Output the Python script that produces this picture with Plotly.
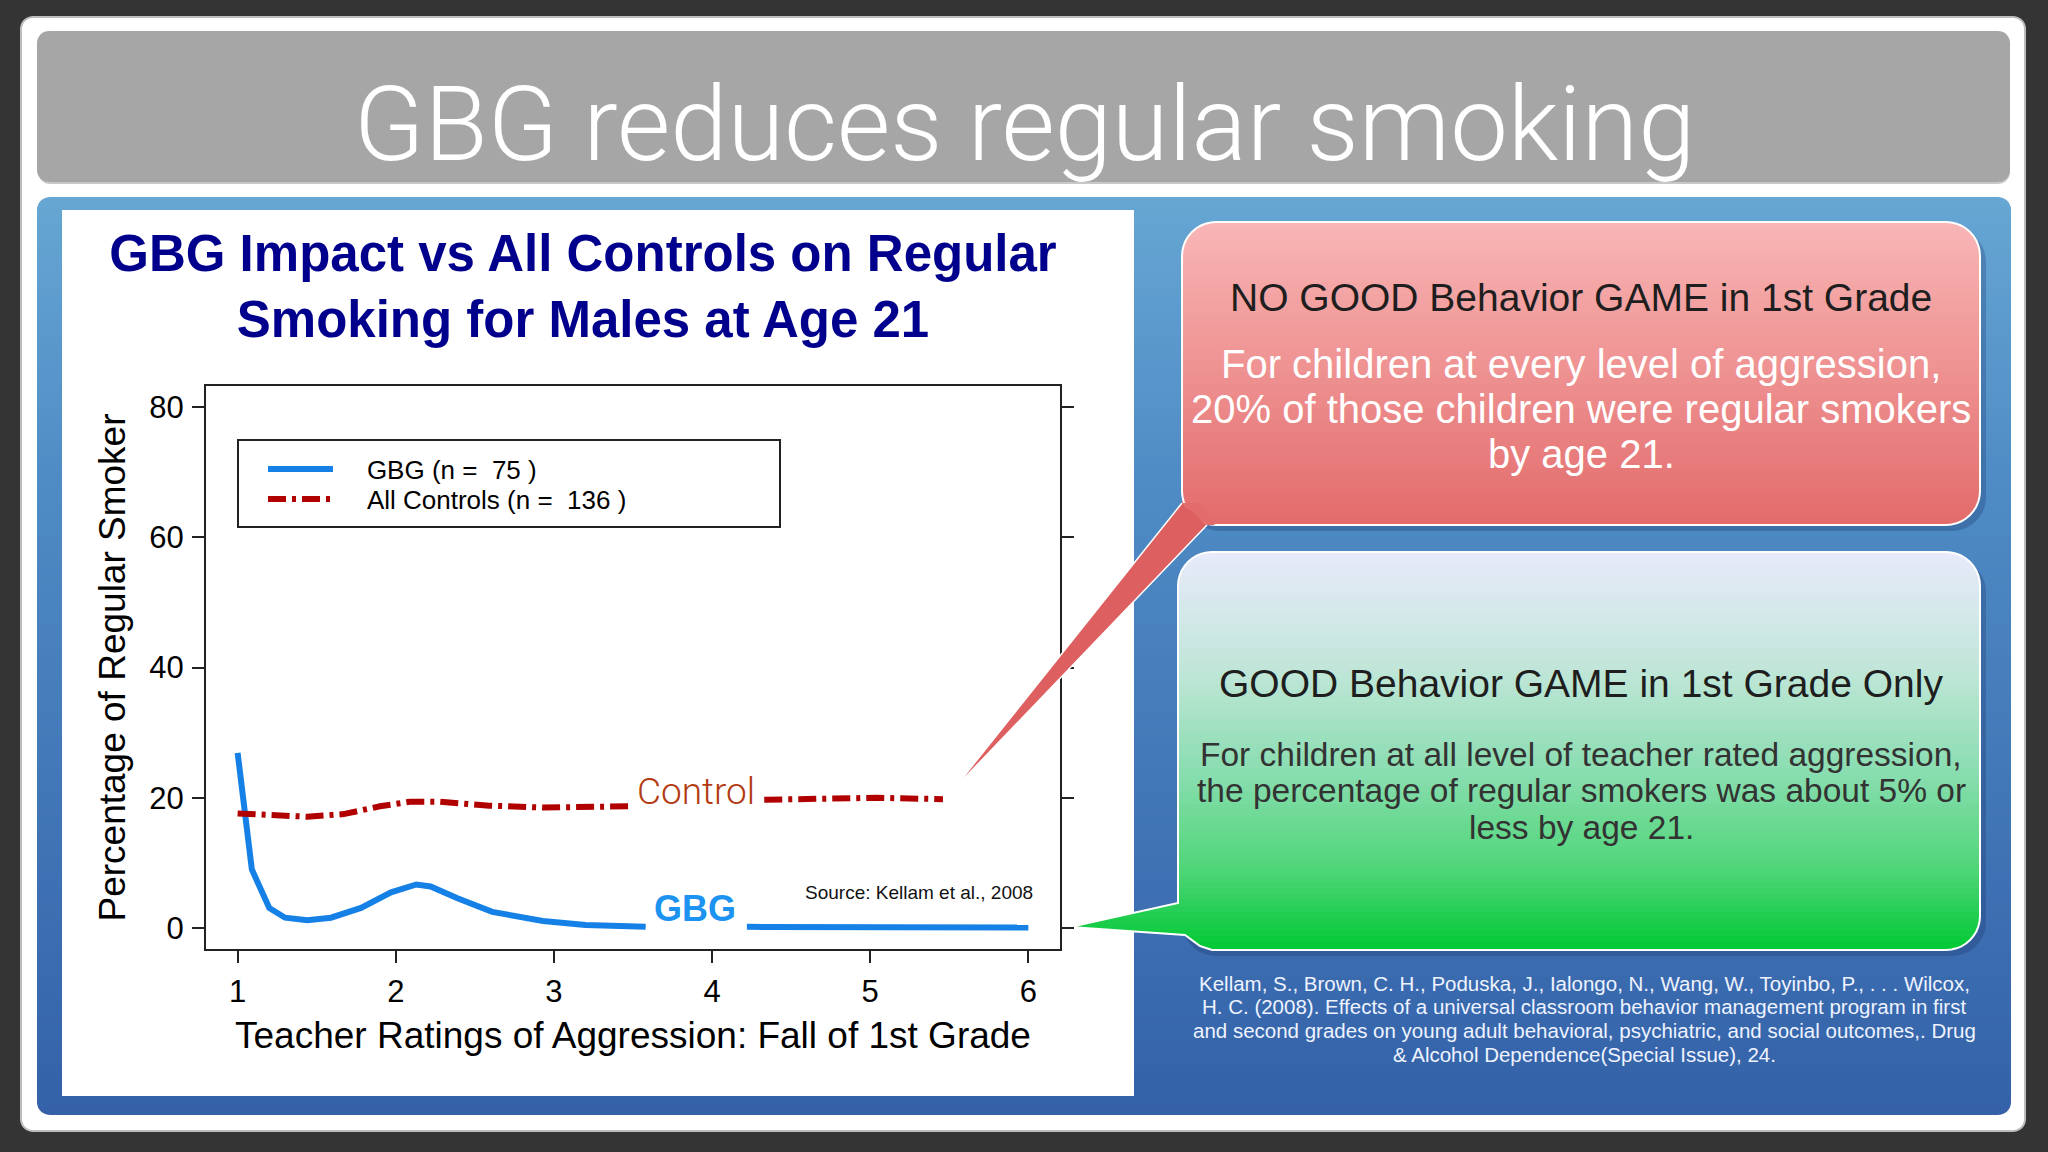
import math
import plotly.graph_objects as go

W, H = 2048, 1152

# ---------------- data ----------------
x_ticks = [1, 2, 3, 4, 5, 6]
y_ticks = [0, 20, 40, 60, 80]

gbg_name = "\u00a0\u00a0\u00a0\u00a0GBG (n =\u00a0 75 )"
ctrl_name = "\u00a0\u00a0\u00a0\u00a0All Controls (n =\u00a0 136 )"

gbg_x = [1.00, 1.09, 1.20, 1.30, 1.44, 1.59, 1.78, 1.97, 2.13, 2.22, 2.39, 2.61, 2.93, 3.20, 3.58,
         None, 4.22, 4.60, 5.00, 5.50, 6.00]
gbg_y = [26.9, 9.0, 3.1, 1.6, 1.2, 1.6, 3.1, 5.5, 6.7, 6.4, 4.6, 2.5, 1.1, 0.5, 0.2,
         None, 0.2, 0.2, 0.1, 0.1, 0.1]

ctrl_x = [1.00, 1.21, 1.44, 1.67, 1.90, 2.09, 2.28, 2.59, 2.93, 3.47, None, 4.33, 4.66, 5.04, 5.46]
ctrl_y = [17.6, 17.4, 17.1, 17.5, 18.7, 19.4, 19.4, 18.8, 18.5, 18.7, None, 19.7, 19.8, 20.0, 19.8]

slide_title = "GBG reduces regular smoking"
chart_title = "GBG Impact vs All Controls on Regular<br>Smoking for Males at Age 21"
x_title = "Teacher Ratings of Aggression: Fall of 1st Grade"
y_title = "Percentage of Regular Smoker"

red_title = "NO GOOD Behavior GAME in 1st Grade"
red_lines = ["For children at every level of aggression,",
             "20% of those children were regular smokers",
             "by age 21."]
green_title = "GOOD Behavior GAME in 1st Grade Only"
green_lines = ["For children at all level of teacher rated aggression,",
               "the percentage of regular smokers was about 5% or",
               "less by age 21."]
citation_lines = [
    "Kellam, S., Brown, C. H., Poduska, J., Ialongo, N., Wang, W., Toyinbo, P., . . . Wilcox,",
    "H. C. (2008). Effects of a universal classroom behavior management program in first",
    "and second grades on young adult behavioral, psychiatric, and social outcomes,. Drug",
    "& Alcohol Dependence(Special Issue), 24.",
]

FONT = "Liberation Sans, Arial, Helvetica, sans-serif"

# ---------------- helpers for decoration ----------------
def px(x):
    return x / W

def py(y):
    return 1 - y / H

def rr_poly(x0, y0, x1, y1, r, n=10, bl_replace=None):
    pts = []
    corners = [(x1 - r, y0 + r, -90), (x1 - r, y1 - r, 0), (x0 + r, y1 - r, 90), (x0 + r, y0 + r, 180)]
    for i, (cx, cy, a0) in enumerate(corners):
        if bl_replace is not None and i == 2:
            pts.extend(bl_replace)
            continue
        for k in range(n + 1):
            a = math.radians(a0 + 90 * k / n)
            pts.append((cx + r * math.cos(a), cy + r * math.sin(a)))
    return pts

def clip_y(poly, yc, keep_ge):
    out = []
    n = len(poly)
    for i in range(n):
        P = poly[i]
        Q = poly[(i + 1) % n]
        pin = P[1] >= yc if keep_ge else P[1] <= yc
        qin = Q[1] >= yc if keep_ge else Q[1] <= yc
        if pin:
            out.append(P)
        if pin != qin:
            t = (yc - P[1]) / (Q[1] - P[1])
            out.append((P[0] + t * (Q[0] - P[0]), yc))
    return out

def to_path(pts, close=True):
    s = "M " + " L ".join(f"{px(x):.5f},{py(y):.5f}" for x, y in pts)
    return s + (" Z" if close else "")

def hex2rgb(h):
    h = h.lstrip("#")
    return tuple(int(h[i:i + 2], 16) for i in (0, 2, 4))

def interp(stops, t):
    t = max(0.0, min(1.0, t))
    for (t0, c0), (t1, c1) in zip(stops[:-1], stops[1:]):
        if t0 <= t <= t1:
            f = 0 if t1 == t0 else (t - t0) / (t1 - t0)
            a, b = hex2rgb(c0), hex2rgb(c1)
            return "rgb(%d,%d,%d)" % tuple(round(a[i] + f * (b[i] - a[i])) for i in range(3))
    return stops[-1][1]

def grad_shapes(poly, y0, y1, stops, step=6):
    out = []
    ymin = min(p[1] for p in poly)
    ymax = max(p[1] for p in poly)
    y = ymin
    while y < ymax:
        ya, yb = y, min(y + step + 1, ymax)
        band = clip_y(clip_y(poly, ya, True), yb, False)
        col = interp(stops, (y + step / 2 - y0) / (y1 - y0))
        if len(band) >= 3:
            out.append(dict(type="path", path=to_path(band), fillcolor=col,
                            line=dict(width=0), layer="below", xref="paper", yref="paper"))
        y += step
    return out

def poly_shape(pts, fill=None, line_color=None, lw=0, layer="below", close=True):
    d = dict(type="path", path=to_path(pts, close), layer=layer, xref="paper", yref="paper",
             line=dict(width=lw, color=line_color or "rgba(0,0,0,0)"))
    d["fillcolor"] = fill if fill else "rgba(0,0,0,0)"
    return d

shapes = []
# white slide frame
shapes.append(poly_shape(rr_poly(21, 17, 2025, 1131, 12), fill="#FFFFFF", line_color="#BDBDBD", lw=2))
# title bar
shapes.append(poly_shape(rr_poly(38, 33, 2010, 184, 12), fill="#C8C8C8"))
shapes.append(poly_shape(rr_poly(37, 31, 2010, 182, 12), fill="#A6A6A6"))
# blue panel
blue_poly = rr_poly(37, 197, 2011, 1115, 13)
shapes += grad_shapes(blue_poly, 197, 1115,
                      [(0, "#66A6D3"), (0.3, "#4F8CC5"), (1, "#3461A8")], step=10)
# chart panel
shapes.append(dict(type="rect", x0=px(62), x1=px(1134), y0=py(1096), y1=py(210),
                   xref="paper", yref="paper", fillcolor="#FFFFFF", line=dict(width=0), layer="below"))
# legend box
shapes.append(dict(type="rect", x0=px(238), x1=px(780), y0=py(527), y1=py(440),
                   xref="paper", yref="paper", fillcolor="rgba(0,0,0,0)",
                   line=dict(width=2, color="#222222"), layer="below"))

# red callout
red_poly = rr_poly(1182, 222, 1980, 525, 34, bl_replace=[(1182, 525)])
shapes.append(poly_shape(rr_poly(1186, 228, 1986, 531, 34), fill="rgba(20,40,90,0.25)"))
shapes += grad_shapes(red_poly, 222, 525, [(0, "#F9B6B6"), (1, "#E36B6B")], step=6)
shapes.append(poly_shape(rr_poly(1182, 222, 1980, 525, 34), line_color="#FFFFFF", lw=2))

# green callout (pointer included in the outline)
green_bl = [(1212, 950), (1200, 946), (1185, 935), (1070, 927), (1178, 903)]
green_poly = rr_poly(1178, 552, 1980, 950, 34, bl_replace=green_bl)
shapes.append(poly_shape(rr_poly(1182, 558, 1986, 956, 34), fill="rgba(20,40,90,0.25)"))
shapes += grad_shapes(green_poly, 552, 950,
                      [(0, "#E8EAFB"), (0.3, "#C0E6D8"), (0.55, "#8ADDB0"), (0.8, "#4ED677"), (1, "#00C832")],
                      step=6)
shapes.append(poly_shape(green_poly, line_color="#FFFFFF", lw=2))

# red pointer (above the chart)
shapes.append(poly_shape([(1182, 503), (1200, 503), (1215, 525), (1207, 525)], fill="#E36B6B", layer="above"))
shapes.append(poly_shape([(1182, 503), (953, 790), (1207, 525)], fill="#DE5F5F",
                         line_color="#FFFFFF", lw=1.5, layer="above", close=False))

# ---------------- figure ----------------
fig = go.Figure()
fig.add_trace(go.Scatter(x=gbg_x, y=gbg_y, mode="lines", name=gbg_name, legend="legend",
                         line=dict(color="#1581E6", width=6), connectgaps=False))
fig.add_trace(go.Scatter(x=ctrl_x, y=ctrl_y, mode="lines", name=ctrl_name, legend="legend2",
                         line=dict(color="#B00000", width=6, dash="18px,6px,4px,6px"), connectgaps=False))

ann = []
def text(x, y, s, size, color, family=FONT, xanchor="center", xref="paper", yref="paper", weight=None):
    f = dict(size=size, color=color, family=family)
    if weight:
        f["weight"] = weight
    ann.append(dict(x=x, y=y, xref=xref, yref=yref, text=s, showarrow=False,
                    xanchor=xanchor, yanchor="middle", font=f))

text(px(1024), py(125), slide_title, 103, "#FFFFFF", family="Roboto, Liberation Sans, sans-serif", weight=300)

# in-chart labels (data coordinates)
text(3.90, 21.0, "Control", 37, "#B33A12", family="Roboto, Liberation Sans, sans-serif", xref="x", yref="y", weight=300)
text(3.89, 3.0, "<b>GBG</b>", 36, "#1C93F0", xref="x", yref="y")
text(6.04, 5.4, "Source: Kellam et al., 2008", 19, "#111111", xanchor="right", xref="x", yref="y")

# callout texts
cx = px(1581)
text(cx, py(297), red_title, 39, "#1E1E1E")
for yy, s in zip([364, 409, 454], red_lines):
    text(cx, py(yy), s, 40, "#FFFFFF")
text(cx, py(683), green_title, 39, "#1E1E1E")
for yy, s in zip([754, 790, 827], green_lines):
    text(cx, py(yy), s, 33.5, "#333333")
for yy, s in zip([983, 1006, 1030, 1054], citation_lines):
    text(px(1584), py(yy), s, 20.5, "#EEF3FF")

axis_common = dict(
    showgrid=False, zeroline=False, showline=True, linecolor="#222222", linewidth=2,
    ticks="outside", ticklen=12, tickwidth=2, tickcolor="#222222",
    tickfont=dict(size=31, color="#000000", family=FONT),
)

legend_common = dict(xanchor="left", yanchor="middle", bgcolor="rgba(0,0,0,0)",
                     font=dict(size=26, color="#000000", family=FONT), itemwidth=65)

fig.update_layout(
    width=W, height=H,
    margin=dict(l=0, r=0, t=0, b=0),
    paper_bgcolor="#343434",
    plot_bgcolor="rgba(0,0,0,0)",
    title=dict(text="<b>" + chart_title + "</b>", x=px(583), y=py(271), xref="paper", yref="paper",
               xanchor="center", yanchor="middle",
               font=dict(size=51, color="#00008C", family=FONT)),
    xaxis=dict(domain=[px(206), px(1060)], range=[0.8, 6.2], tickvals=x_ticks, mirror=True,
               ticklabelstandoff=2,
               title=dict(text=x_title, font=dict(size=37, color="#000000", family=FONT), standoff=14),
               **axis_common),
    yaxis=dict(domain=[py(949), py(386)], range=[-3.2, 83.2], tickvals=y_ticks, mirror="ticks",
               ticklabelstandoff=2,
               title=dict(text=y_title, font=dict(size=37, color="#000000", family=FONT), standoff=12),
               **axis_common),
    showlegend=True,
    legend=dict(x=px(263), y=py(469), **legend_common),
    legend2=dict(x=px(263), y=py(499), **legend_common),
    shapes=shapes,
    annotations=ann,
)

fig.write_html("out.html")
